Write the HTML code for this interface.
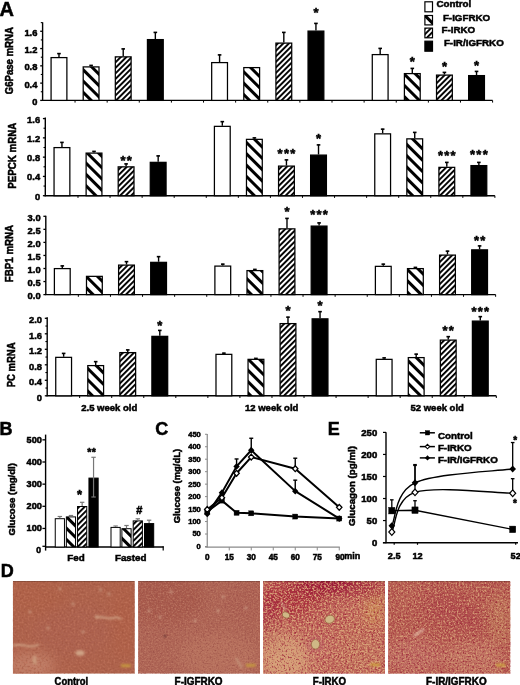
<!DOCTYPE html>
<html><head><meta charset="utf-8"><style>
html,body{margin:0;padding:0;background:#fff;width:520px;height:685px;overflow:hidden}
svg{display:block}
text{font-family:'Liberation Sans', Arial, sans-serif;stroke:#000;stroke-width:0.5px}
</style></head><body>
<svg width="520" height="685" viewBox="0 0 520 685">
<defs>
<pattern id="bk" patternUnits="userSpaceOnUse" width="8" height="8" patternTransform="rotate(-45)">
<rect width="8" height="8" fill="#fff"/><rect x="0" y="0" width="3" height="8" fill="#000"/></pattern>
<pattern id="fw" patternUnits="userSpaceOnUse" width="3.9" height="8" patternTransform="rotate(45)">
<rect width="3.9" height="8" fill="#fff"/><rect x="0" y="0" width="1.9" height="8" fill="#000"/></pattern>
<filter id="bl6" x="-50%" y="-50%" width="200%" height="200%"><feGaussianBlur stdDeviation="6"/></filter>
<filter id="bl3" x="-50%" y="-50%" width="200%" height="200%"><feGaussianBlur stdDeviation="3"/></filter>
<filter id="bl1" x="-50%" y="-50%" width="200%" height="200%"><feGaussianBlur stdDeviation="0.8"/></filter>
<filter id="sl0" x="0" y="0" width="1" height="1" color-interpolation-filters="sRGB"><feTurbulence type="fractalNoise" baseFrequency="0.5" numOctaves="2" seed="3"/><feColorMatrix type="matrix" values="0 0 0 0 0.82 0 0 0 0 0.53 0 0 0 0 0.41 1.8 0 0 0 -0.8"/></filter>
<filter id="sd0" x="0" y="0" width="1" height="1" color-interpolation-filters="sRGB"><feTurbulence type="fractalNoise" baseFrequency="0.5" numOctaves="2" seed="7"/><feColorMatrix type="matrix" values="0 0 0 0 0.67 0 0 0 0 0.37 0 0 0 0 0.27 1.8 0 0 0 -0.8"/></filter>
<filter id="sl1" x="0" y="0" width="1" height="1" color-interpolation-filters="sRGB"><feTurbulence type="fractalNoise" baseFrequency="0.6" numOctaves="2" seed="11"/><feColorMatrix type="matrix" values="0 0 0 0 0.82 0 0 0 0 0.57 0 0 0 0 0.46 2 0 0 0 -0.88"/></filter>
<filter id="sd1" x="0" y="0" width="1" height="1" color-interpolation-filters="sRGB"><feTurbulence type="fractalNoise" baseFrequency="0.6" numOctaves="2" seed="13"/><feColorMatrix type="matrix" values="0 0 0 0 0.65 0 0 0 0 0.35 0 0 0 0 0.31 2 0 0 0 -0.88"/></filter>
<filter id="sl2" x="0" y="0" width="1" height="1" color-interpolation-filters="sRGB"><feTurbulence type="fractalNoise" baseFrequency="0.53 0.59" numOctaves="3" seed="17"/><feColorMatrix type="matrix" values="0 0 0 0 0.88 0 0 0 0 0.68 0 0 0 0 0.5 3.4 0 0 0 -1.45"/></filter>
<filter id="sd2" x="0" y="0" width="1" height="1" color-interpolation-filters="sRGB"><feTurbulence type="fractalNoise" baseFrequency="0.57 0.51" numOctaves="3" seed="19"/><feColorMatrix type="matrix" values="0 0 0 0 0.65 0 0 0 0 0.18 0 0 0 0 0.25 3 0 0 0 -1.4"/></filter>
<filter id="sl3" x="0" y="0" width="1" height="1" color-interpolation-filters="sRGB"><feTurbulence type="fractalNoise" baseFrequency="0.59 0.53" numOctaves="3" seed="23"/><feColorMatrix type="matrix" values="0 0 0 0 0.87 0 0 0 0 0.65 0 0 0 0 0.49 3.2 0 0 0 -1.5"/></filter>
<filter id="sd3" x="0" y="0" width="1" height="1" color-interpolation-filters="sRGB"><feTurbulence type="fractalNoise" baseFrequency="0.51 0.57" numOctaves="3" seed="29"/><feColorMatrix type="matrix" values="0 0 0 0 0.65 0 0 0 0 0.2 0 0 0 0 0.25 3 0 0 0 -1.4"/></filter>
<filter id="dk0" x="0" y="0" width="1" height="1" color-interpolation-filters="sRGB"><feComponentTransfer><feFuncR type="linear" slope="0.93"/><feFuncG type="linear" slope="0.88"/><feFuncB type="linear" slope="0.9"/></feComponentTransfer></filter>
<filter id="dk1" x="0" y="0" width="1" height="1" color-interpolation-filters="sRGB"><feComponentTransfer><feFuncR type="linear" slope="0.93"/><feFuncG type="linear" slope="0.88"/><feFuncB type="linear" slope="0.9"/></feComponentTransfer></filter>
<filter id="dk2" x="0" y="0" width="1" height="1" color-interpolation-filters="sRGB"><feComponentTransfer><feFuncR type="linear" slope="0.97"/><feFuncG type="linear" slope="0.94"/><feFuncB type="linear" slope="0.95"/></feComponentTransfer></filter>
<filter id="dk3" x="0" y="0" width="1" height="1" color-interpolation-filters="sRGB"><feComponentTransfer><feFuncR type="linear" slope="0.96"/><feFuncG type="linear" slope="0.93"/><feFuncB type="linear" slope="0.94"/></feComponentTransfer></filter>
<clipPath id="cp0"><rect x="12.9" y="580.9" width="121.9" height="92.8"/></clipPath>
<clipPath id="cp1"><rect x="138.1" y="580.9" width="121.9" height="92.8"/></clipPath>
<clipPath id="cp2"><rect x="263.1" y="580.9" width="121.9" height="92.8"/></clipPath>
<clipPath id="cp3"><rect x="388.1" y="580.9" width="122.3" height="92.8"/></clipPath>
</defs>
<line x1="42.6" y1="22.3" x2="42.6" y2="100.9" stroke="#000" stroke-width="1.4"/>
<line x1="40.2" y1="100.4" x2="42.6" y2="100.4" stroke="#000" stroke-width="1.3"/>
<text x="37.4" y="105.05" font-size="9.3" text-anchor="end" fill="#000" font-weight="bold">0</text>
<line x1="40.2" y1="83.12" x2="42.6" y2="83.12" stroke="#000" stroke-width="1.3"/>
<text x="37.4" y="87.77" font-size="9.3" text-anchor="end" fill="#000" font-weight="bold" textLength="13" lengthAdjust="spacingAndGlyphs">0.4</text>
<line x1="40.2" y1="65.84" x2="42.6" y2="65.84" stroke="#000" stroke-width="1.3"/>
<text x="37.4" y="70.49" font-size="9.3" text-anchor="end" fill="#000" font-weight="bold" textLength="13" lengthAdjust="spacingAndGlyphs">0.8</text>
<line x1="40.2" y1="48.56" x2="42.6" y2="48.56" stroke="#000" stroke-width="1.3"/>
<text x="37.4" y="53.21" font-size="9.3" text-anchor="end" fill="#000" font-weight="bold" textLength="13" lengthAdjust="spacingAndGlyphs">1.2</text>
<line x1="40.2" y1="31.28" x2="42.6" y2="31.28" stroke="#000" stroke-width="1.3"/>
<text x="37.4" y="35.93" font-size="9.3" text-anchor="end" fill="#000" font-weight="bold" textLength="13" lengthAdjust="spacingAndGlyphs">1.6</text>
<line x1="40.8" y1="91.76" x2="42.6" y2="91.76" stroke="#000" stroke-width="1.1"/>
<line x1="40.8" y1="74.48" x2="42.6" y2="74.48" stroke="#000" stroke-width="1.1"/>
<line x1="40.8" y1="57.2" x2="42.6" y2="57.2" stroke="#000" stroke-width="1.1"/>
<line x1="40.8" y1="39.92" x2="42.6" y2="39.92" stroke="#000" stroke-width="1.1"/>
<line x1="40.8" y1="22.64" x2="42.6" y2="22.64" stroke="#000" stroke-width="1.1"/>
<line x1="41.9" y1="100.4" x2="492.6" y2="100.4" stroke="#000" stroke-width="1.4"/>
<line x1="75.04" y1="100.4" x2="75.04" y2="102.6" stroke="#000" stroke-width="1"/>
<line x1="107.16" y1="100.4" x2="107.16" y2="102.6" stroke="#000" stroke-width="1"/>
<line x1="139.28" y1="100.4" x2="139.28" y2="102.6" stroke="#000" stroke-width="1"/>
<line x1="171.4" y1="100.4" x2="171.4" y2="102.6" stroke="#000" stroke-width="1"/>
<line x1="203.52" y1="100.4" x2="203.52" y2="102.6" stroke="#000" stroke-width="1"/>
<line x1="235.64" y1="100.4" x2="235.64" y2="102.6" stroke="#000" stroke-width="1"/>
<line x1="267.76" y1="100.4" x2="267.76" y2="102.6" stroke="#000" stroke-width="1"/>
<line x1="299.88" y1="100.4" x2="299.88" y2="102.6" stroke="#000" stroke-width="1"/>
<line x1="332" y1="100.4" x2="332" y2="102.6" stroke="#000" stroke-width="1"/>
<line x1="364.12" y1="100.4" x2="364.12" y2="102.6" stroke="#000" stroke-width="1"/>
<line x1="396.24" y1="100.4" x2="396.24" y2="102.6" stroke="#000" stroke-width="1"/>
<line x1="428.36" y1="100.4" x2="428.36" y2="102.6" stroke="#000" stroke-width="1"/>
<line x1="460.48" y1="100.4" x2="460.48" y2="102.6" stroke="#000" stroke-width="1"/>
<line x1="492.6" y1="100.4" x2="492.6" y2="102.6" stroke="#000" stroke-width="1"/>
<line x1="58.98" y1="53.2" x2="58.98" y2="57" stroke="#000" stroke-width="1.4"/>
<line x1="57.18" y1="53.6" x2="60.78" y2="53.6" stroke="#000" stroke-width="1.6"/>
<rect x="51.08" y="57.6" width="15.8" height="42.8" fill="#fff" stroke="#000" stroke-width="1.25"/>
<line x1="91.1" y1="65" x2="91.1" y2="66.3" stroke="#000" stroke-width="1.4"/>
<line x1="89.3" y1="65.4" x2="92.9" y2="65.4" stroke="#000" stroke-width="1.6"/>
<rect x="83.2" y="66.9" width="15.8" height="33.5" fill="url(#bk)" stroke="#000" stroke-width="1.25"/>
<line x1="123.22" y1="48.5" x2="123.22" y2="56.25" stroke="#000" stroke-width="1.4"/>
<line x1="121.42" y1="48.9" x2="125.02" y2="48.9" stroke="#000" stroke-width="1.6"/>
<rect x="115.32" y="56.85" width="15.8" height="43.55" fill="url(#fw)" stroke="#000" stroke-width="1.25"/>
<line x1="155.34" y1="32" x2="155.34" y2="39" stroke="#000" stroke-width="1.4"/>
<line x1="153.54" y1="32.4" x2="157.14" y2="32.4" stroke="#000" stroke-width="1.6"/>
<rect x="147.44" y="39.6" width="15.8" height="60.8" fill="#000" stroke="#000" stroke-width="1.25"/>
<line x1="219.58" y1="54.5" x2="219.58" y2="62" stroke="#000" stroke-width="1.4"/>
<line x1="217.78" y1="54.9" x2="221.38" y2="54.9" stroke="#000" stroke-width="1.6"/>
<rect x="211.68" y="62.6" width="15.8" height="37.8" fill="#fff" stroke="#000" stroke-width="1.25"/>
<rect x="243.8" y="67.6" width="15.8" height="32.8" fill="url(#bk)" stroke="#000" stroke-width="1.25"/>
<line x1="283.82" y1="32" x2="283.82" y2="42.5" stroke="#000" stroke-width="1.4"/>
<line x1="282.02" y1="32.4" x2="285.62" y2="32.4" stroke="#000" stroke-width="1.6"/>
<rect x="275.92" y="43.1" width="15.8" height="57.3" fill="url(#fw)" stroke="#000" stroke-width="1.25"/>
<line x1="315.94" y1="23" x2="315.94" y2="30.5" stroke="#000" stroke-width="1.4"/>
<line x1="314.14" y1="23.4" x2="317.74" y2="23.4" stroke="#000" stroke-width="1.6"/>
<rect x="308.04" y="31.1" width="15.8" height="69.3" fill="#000" stroke="#000" stroke-width="1.25"/>
<text x="315.94" y="16.6" font-size="13" text-anchor="middle" fill="#000" font-weight="bold">*</text>
<line x1="380.18" y1="48" x2="380.18" y2="54" stroke="#000" stroke-width="1.4"/>
<line x1="378.38" y1="48.4" x2="381.98" y2="48.4" stroke="#000" stroke-width="1.6"/>
<rect x="372.28" y="54.6" width="15.8" height="45.8" fill="#fff" stroke="#000" stroke-width="1.25"/>
<line x1="412.3" y1="68" x2="412.3" y2="73" stroke="#000" stroke-width="1.4"/>
<line x1="410.5" y1="68.4" x2="414.1" y2="68.4" stroke="#000" stroke-width="1.6"/>
<rect x="404.4" y="73.6" width="15.8" height="26.8" fill="url(#bk)" stroke="#000" stroke-width="1.25"/>
<text x="412.3" y="66.4" font-size="13" text-anchor="middle" fill="#000" font-weight="bold">*</text>
<line x1="444.42" y1="72" x2="444.42" y2="74.5" stroke="#000" stroke-width="1.4"/>
<line x1="442.62" y1="72.4" x2="446.22" y2="72.4" stroke="#000" stroke-width="1.6"/>
<rect x="436.52" y="75.1" width="15.8" height="25.3" fill="url(#fw)" stroke="#000" stroke-width="1.25"/>
<text x="444.42" y="71.4" font-size="13" text-anchor="middle" fill="#000" font-weight="bold">*</text>
<line x1="476.54" y1="71" x2="476.54" y2="75" stroke="#000" stroke-width="1.4"/>
<line x1="474.74" y1="71.4" x2="478.34" y2="71.4" stroke="#000" stroke-width="1.6"/>
<rect x="468.64" y="75.6" width="15.8" height="24.8" fill="#000" stroke="#000" stroke-width="1.25"/>
<text x="476.54" y="70.4" font-size="13" text-anchor="middle" fill="#000" font-weight="bold">*</text>
<text transform="translate(12.9,60.7) rotate(-90)" x="0" y="0" font-size="10" text-anchor="middle" font-weight="bold" textLength="67.2" lengthAdjust="spacingAndGlyphs">G6Pase mRNA</text>
<line x1="45.3" y1="117.6" x2="45.3" y2="196.2" stroke="#000" stroke-width="1.4"/>
<line x1="42.9" y1="195.7" x2="45.3" y2="195.7" stroke="#000" stroke-width="1.3"/>
<text x="40.1" y="199.65" font-size="9.3" text-anchor="end" fill="#000" font-weight="bold">0</text>
<line x1="42.9" y1="176.42" x2="45.3" y2="176.42" stroke="#000" stroke-width="1.3"/>
<text x="40.1" y="180.37" font-size="9.3" text-anchor="end" fill="#000" font-weight="bold" textLength="13" lengthAdjust="spacingAndGlyphs">0.4</text>
<line x1="42.9" y1="157.14" x2="45.3" y2="157.14" stroke="#000" stroke-width="1.3"/>
<text x="40.1" y="161.09" font-size="9.3" text-anchor="end" fill="#000" font-weight="bold" textLength="13" lengthAdjust="spacingAndGlyphs">0.8</text>
<line x1="42.9" y1="137.86" x2="45.3" y2="137.86" stroke="#000" stroke-width="1.3"/>
<text x="40.1" y="141.81" font-size="9.3" text-anchor="end" fill="#000" font-weight="bold" textLength="13" lengthAdjust="spacingAndGlyphs">1.2</text>
<line x1="42.9" y1="118.58" x2="45.3" y2="118.58" stroke="#000" stroke-width="1.3"/>
<text x="40.1" y="122.53" font-size="9.3" text-anchor="end" fill="#000" font-weight="bold" textLength="13" lengthAdjust="spacingAndGlyphs">1.6</text>
<line x1="43.5" y1="186.06" x2="45.3" y2="186.06" stroke="#000" stroke-width="1.1"/>
<line x1="43.5" y1="166.78" x2="45.3" y2="166.78" stroke="#000" stroke-width="1.1"/>
<line x1="43.5" y1="147.5" x2="45.3" y2="147.5" stroke="#000" stroke-width="1.1"/>
<line x1="43.5" y1="128.22" x2="45.3" y2="128.22" stroke="#000" stroke-width="1.1"/>
<line x1="44.6" y1="195.7" x2="494.9" y2="195.7" stroke="#000" stroke-width="1.4"/>
<line x1="77.99" y1="195.7" x2="77.99" y2="197.9" stroke="#000" stroke-width="1"/>
<line x1="110.06" y1="195.7" x2="110.06" y2="197.9" stroke="#000" stroke-width="1"/>
<line x1="142.13" y1="195.7" x2="142.13" y2="197.9" stroke="#000" stroke-width="1"/>
<line x1="174.2" y1="195.7" x2="174.2" y2="197.9" stroke="#000" stroke-width="1"/>
<line x1="206.27" y1="195.7" x2="206.27" y2="197.9" stroke="#000" stroke-width="1"/>
<line x1="238.34" y1="195.7" x2="238.34" y2="197.9" stroke="#000" stroke-width="1"/>
<line x1="270.41" y1="195.7" x2="270.41" y2="197.9" stroke="#000" stroke-width="1"/>
<line x1="302.48" y1="195.7" x2="302.48" y2="197.9" stroke="#000" stroke-width="1"/>
<line x1="334.55" y1="195.7" x2="334.55" y2="197.9" stroke="#000" stroke-width="1"/>
<line x1="366.62" y1="195.7" x2="366.62" y2="197.9" stroke="#000" stroke-width="1"/>
<line x1="398.69" y1="195.7" x2="398.69" y2="197.9" stroke="#000" stroke-width="1"/>
<line x1="430.76" y1="195.7" x2="430.76" y2="197.9" stroke="#000" stroke-width="1"/>
<line x1="462.83" y1="195.7" x2="462.83" y2="197.9" stroke="#000" stroke-width="1"/>
<line x1="494.9" y1="195.7" x2="494.9" y2="197.9" stroke="#000" stroke-width="1"/>
<line x1="61.95" y1="142" x2="61.95" y2="147" stroke="#000" stroke-width="1.4"/>
<line x1="60.16" y1="142.4" x2="63.75" y2="142.4" stroke="#000" stroke-width="1.6"/>
<rect x="54.05" y="147.6" width="15.8" height="48.1" fill="#fff" stroke="#000" stroke-width="1.25"/>
<line x1="94.03" y1="151" x2="94.03" y2="152.5" stroke="#000" stroke-width="1.4"/>
<line x1="92.23" y1="151.4" x2="95.83" y2="151.4" stroke="#000" stroke-width="1.6"/>
<rect x="86.12" y="153.1" width="15.8" height="42.6" fill="url(#bk)" stroke="#000" stroke-width="1.25"/>
<line x1="126.09" y1="163.5" x2="126.09" y2="166.25" stroke="#000" stroke-width="1.4"/>
<line x1="124.3" y1="163.9" x2="127.89" y2="163.9" stroke="#000" stroke-width="1.6"/>
<rect x="118.19" y="166.85" width="15.8" height="28.85" fill="url(#fw)" stroke="#000" stroke-width="1.25"/>
<text x="122.94" y="164.9" font-size="13" text-anchor="middle" fill="#000" font-weight="bold">*</text>
<text x="129.25" y="164.9" font-size="13" text-anchor="middle" fill="#000" font-weight="bold">*</text>
<line x1="158.17" y1="155.5" x2="158.17" y2="161.75" stroke="#000" stroke-width="1.4"/>
<line x1="156.37" y1="155.9" x2="159.97" y2="155.9" stroke="#000" stroke-width="1.6"/>
<rect x="150.27" y="162.35" width="15.8" height="33.35" fill="#000" stroke="#000" stroke-width="1.25"/>
<line x1="222.31" y1="121.25" x2="222.31" y2="125.75" stroke="#000" stroke-width="1.4"/>
<line x1="220.5" y1="121.65" x2="224.11" y2="121.65" stroke="#000" stroke-width="1.6"/>
<rect x="214.41" y="126.35" width="15.8" height="69.35" fill="#fff" stroke="#000" stroke-width="1.25"/>
<line x1="254.38" y1="137.5" x2="254.38" y2="138.75" stroke="#000" stroke-width="1.4"/>
<line x1="252.57" y1="137.9" x2="256.18" y2="137.9" stroke="#000" stroke-width="1.6"/>
<rect x="246.47" y="139.35" width="15.8" height="56.35" fill="url(#bk)" stroke="#000" stroke-width="1.25"/>
<line x1="286.44" y1="159.5" x2="286.44" y2="165.5" stroke="#000" stroke-width="1.4"/>
<line x1="284.64" y1="159.9" x2="288.25" y2="159.9" stroke="#000" stroke-width="1.6"/>
<rect x="278.55" y="166.1" width="15.8" height="29.6" fill="url(#fw)" stroke="#000" stroke-width="1.25"/>
<text x="280.14" y="157.9" font-size="13" text-anchor="middle" fill="#000" font-weight="bold">*</text>
<text x="286.44" y="157.9" font-size="13" text-anchor="middle" fill="#000" font-weight="bold">*</text>
<text x="292.75" y="157.9" font-size="13" text-anchor="middle" fill="#000" font-weight="bold">*</text>
<line x1="318.52" y1="144.5" x2="318.52" y2="154.5" stroke="#000" stroke-width="1.4"/>
<line x1="316.72" y1="144.9" x2="320.32" y2="144.9" stroke="#000" stroke-width="1.6"/>
<rect x="310.62" y="155.1" width="15.8" height="40.6" fill="#000" stroke="#000" stroke-width="1.25"/>
<text x="318.52" y="142.9" font-size="13" text-anchor="middle" fill="#000" font-weight="bold">*</text>
<line x1="382.66" y1="128.75" x2="382.66" y2="133.25" stroke="#000" stroke-width="1.4"/>
<line x1="380.86" y1="129.15" x2="384.46" y2="129.15" stroke="#000" stroke-width="1.6"/>
<rect x="374.76" y="133.85" width="15.8" height="61.85" fill="#fff" stroke="#000" stroke-width="1.25"/>
<line x1="414.73" y1="132" x2="414.73" y2="138.25" stroke="#000" stroke-width="1.4"/>
<line x1="412.93" y1="132.4" x2="416.53" y2="132.4" stroke="#000" stroke-width="1.6"/>
<rect x="406.83" y="138.85" width="15.8" height="56.85" fill="url(#bk)" stroke="#000" stroke-width="1.25"/>
<line x1="446.8" y1="162" x2="446.8" y2="166.75" stroke="#000" stroke-width="1.4"/>
<line x1="445" y1="162.4" x2="448.6" y2="162.4" stroke="#000" stroke-width="1.6"/>
<rect x="438.9" y="167.35" width="15.8" height="28.35" fill="url(#fw)" stroke="#000" stroke-width="1.25"/>
<text x="440.5" y="160.4" font-size="13" text-anchor="middle" fill="#000" font-weight="bold">*</text>
<text x="446.8" y="160.4" font-size="13" text-anchor="middle" fill="#000" font-weight="bold">*</text>
<text x="453.1" y="160.4" font-size="13" text-anchor="middle" fill="#000" font-weight="bold">*</text>
<line x1="478.87" y1="162" x2="478.87" y2="165" stroke="#000" stroke-width="1.4"/>
<line x1="477.06" y1="162.4" x2="480.67" y2="162.4" stroke="#000" stroke-width="1.6"/>
<rect x="470.97" y="165.6" width="15.8" height="30.1" fill="#000" stroke="#000" stroke-width="1.25"/>
<text x="472.56" y="159.15" font-size="13" text-anchor="middle" fill="#000" font-weight="bold">*</text>
<text x="478.87" y="159.15" font-size="13" text-anchor="middle" fill="#000" font-weight="bold">*</text>
<text x="485.17" y="159.15" font-size="13" text-anchor="middle" fill="#000" font-weight="bold">*</text>
<text transform="translate(16.1,155.7) rotate(-90)" x="0" y="0" font-size="10" text-anchor="middle" font-weight="bold" textLength="65.9" lengthAdjust="spacingAndGlyphs">PEPCK mRNA</text>
<line x1="45.8" y1="215.8" x2="45.8" y2="295.1" stroke="#000" stroke-width="1.4"/>
<line x1="43.4" y1="294.6" x2="45.8" y2="294.6" stroke="#000" stroke-width="1.3"/>
<text x="40.6" y="298.95" font-size="9.3" text-anchor="end" fill="#000" font-weight="bold" textLength="13" lengthAdjust="spacingAndGlyphs">0.0</text>
<line x1="43.4" y1="281.55" x2="45.8" y2="281.55" stroke="#000" stroke-width="1.3"/>
<text x="40.6" y="285.9" font-size="9.3" text-anchor="end" fill="#000" font-weight="bold" textLength="13" lengthAdjust="spacingAndGlyphs">0.5</text>
<line x1="43.4" y1="268.5" x2="45.8" y2="268.5" stroke="#000" stroke-width="1.3"/>
<text x="40.6" y="272.85" font-size="9.3" text-anchor="end" fill="#000" font-weight="bold" textLength="13" lengthAdjust="spacingAndGlyphs">1.0</text>
<line x1="43.4" y1="255.45" x2="45.8" y2="255.45" stroke="#000" stroke-width="1.3"/>
<text x="40.6" y="259.8" font-size="9.3" text-anchor="end" fill="#000" font-weight="bold" textLength="13" lengthAdjust="spacingAndGlyphs">1.5</text>
<line x1="43.4" y1="242.4" x2="45.8" y2="242.4" stroke="#000" stroke-width="1.3"/>
<text x="40.6" y="246.75" font-size="9.3" text-anchor="end" fill="#000" font-weight="bold" textLength="13" lengthAdjust="spacingAndGlyphs">2.0</text>
<line x1="43.4" y1="229.35" x2="45.8" y2="229.35" stroke="#000" stroke-width="1.3"/>
<text x="40.6" y="233.7" font-size="9.3" text-anchor="end" fill="#000" font-weight="bold" textLength="13" lengthAdjust="spacingAndGlyphs">2.5</text>
<line x1="43.4" y1="216.3" x2="45.8" y2="216.3" stroke="#000" stroke-width="1.3"/>
<text x="40.6" y="220.65" font-size="9.3" text-anchor="end" fill="#000" font-weight="bold" textLength="13" lengthAdjust="spacingAndGlyphs">3.0</text>
<line x1="45.1" y1="294.6" x2="495.64" y2="294.6" stroke="#000" stroke-width="1.4"/>
<line x1="78.34" y1="294.6" x2="78.34" y2="296.8" stroke="#000" stroke-width="1"/>
<line x1="110.44" y1="294.6" x2="110.44" y2="296.8" stroke="#000" stroke-width="1"/>
<line x1="142.54" y1="294.6" x2="142.54" y2="296.8" stroke="#000" stroke-width="1"/>
<line x1="174.64" y1="294.6" x2="174.64" y2="296.8" stroke="#000" stroke-width="1"/>
<line x1="206.74" y1="294.6" x2="206.74" y2="296.8" stroke="#000" stroke-width="1"/>
<line x1="238.84" y1="294.6" x2="238.84" y2="296.8" stroke="#000" stroke-width="1"/>
<line x1="270.94" y1="294.6" x2="270.94" y2="296.8" stroke="#000" stroke-width="1"/>
<line x1="303.04" y1="294.6" x2="303.04" y2="296.8" stroke="#000" stroke-width="1"/>
<line x1="335.14" y1="294.6" x2="335.14" y2="296.8" stroke="#000" stroke-width="1"/>
<line x1="367.24" y1="294.6" x2="367.24" y2="296.8" stroke="#000" stroke-width="1"/>
<line x1="399.34" y1="294.6" x2="399.34" y2="296.8" stroke="#000" stroke-width="1"/>
<line x1="431.44" y1="294.6" x2="431.44" y2="296.8" stroke="#000" stroke-width="1"/>
<line x1="463.54" y1="294.6" x2="463.54" y2="296.8" stroke="#000" stroke-width="1"/>
<line x1="495.64" y1="294.6" x2="495.64" y2="296.8" stroke="#000" stroke-width="1"/>
<line x1="62.29" y1="265.5" x2="62.29" y2="268" stroke="#000" stroke-width="1.4"/>
<line x1="60.49" y1="265.9" x2="64.09" y2="265.9" stroke="#000" stroke-width="1.6"/>
<rect x="54.39" y="268.6" width="15.8" height="26" fill="#fff" stroke="#000" stroke-width="1.25"/>
<rect x="86.49" y="276.35" width="15.8" height="18.25" fill="url(#bk)" stroke="#000" stroke-width="1.25"/>
<line x1="126.49" y1="261.25" x2="126.49" y2="264.5" stroke="#000" stroke-width="1.4"/>
<line x1="124.69" y1="261.65" x2="128.29" y2="261.65" stroke="#000" stroke-width="1.6"/>
<rect x="118.59" y="265.1" width="15.8" height="29.5" fill="url(#fw)" stroke="#000" stroke-width="1.25"/>
<line x1="158.59" y1="256.25" x2="158.59" y2="261.75" stroke="#000" stroke-width="1.4"/>
<line x1="156.79" y1="256.65" x2="160.39" y2="256.65" stroke="#000" stroke-width="1.6"/>
<rect x="150.69" y="262.35" width="15.8" height="32.25" fill="#000" stroke="#000" stroke-width="1.25"/>
<line x1="222.79" y1="263.75" x2="222.79" y2="265.5" stroke="#000" stroke-width="1.4"/>
<line x1="220.99" y1="264.15" x2="224.59" y2="264.15" stroke="#000" stroke-width="1.6"/>
<rect x="214.89" y="266.1" width="15.8" height="28.5" fill="#fff" stroke="#000" stroke-width="1.25"/>
<line x1="254.89" y1="269" x2="254.89" y2="270" stroke="#000" stroke-width="1.4"/>
<line x1="253.09" y1="269.4" x2="256.69" y2="269.4" stroke="#000" stroke-width="1.6"/>
<rect x="246.99" y="270.6" width="15.8" height="24" fill="url(#bk)" stroke="#000" stroke-width="1.25"/>
<line x1="286.99" y1="218" x2="286.99" y2="228.25" stroke="#000" stroke-width="1.4"/>
<line x1="285.19" y1="218.4" x2="288.79" y2="218.4" stroke="#000" stroke-width="1.6"/>
<rect x="279.09" y="228.85" width="15.8" height="65.75" fill="url(#fw)" stroke="#000" stroke-width="1.25"/>
<text x="286.99" y="215.9" font-size="13" text-anchor="middle" fill="#000" font-weight="bold">*</text>
<line x1="319.09" y1="222.5" x2="319.09" y2="225.5" stroke="#000" stroke-width="1.4"/>
<line x1="317.29" y1="222.9" x2="320.89" y2="222.9" stroke="#000" stroke-width="1.6"/>
<rect x="311.19" y="226.1" width="15.8" height="68.5" fill="#000" stroke="#000" stroke-width="1.25"/>
<text x="312.79" y="219.15" font-size="13" text-anchor="middle" fill="#000" font-weight="bold">*</text>
<text x="319.09" y="219.15" font-size="13" text-anchor="middle" fill="#000" font-weight="bold">*</text>
<text x="325.39" y="219.15" font-size="13" text-anchor="middle" fill="#000" font-weight="bold">*</text>
<line x1="383.29" y1="263.75" x2="383.29" y2="265.75" stroke="#000" stroke-width="1.4"/>
<line x1="381.49" y1="264.15" x2="385.09" y2="264.15" stroke="#000" stroke-width="1.6"/>
<rect x="375.39" y="266.35" width="15.8" height="28.25" fill="#fff" stroke="#000" stroke-width="1.25"/>
<line x1="415.39" y1="267" x2="415.39" y2="268" stroke="#000" stroke-width="1.4"/>
<line x1="413.59" y1="267.4" x2="417.19" y2="267.4" stroke="#000" stroke-width="1.6"/>
<rect x="407.49" y="268.6" width="15.8" height="26" fill="url(#bk)" stroke="#000" stroke-width="1.25"/>
<line x1="447.49" y1="250.75" x2="447.49" y2="254.5" stroke="#000" stroke-width="1.4"/>
<line x1="445.69" y1="251.15" x2="449.29" y2="251.15" stroke="#000" stroke-width="1.6"/>
<rect x="439.59" y="255.1" width="15.8" height="39.5" fill="url(#fw)" stroke="#000" stroke-width="1.25"/>
<line x1="479.59" y1="245.5" x2="479.59" y2="249.25" stroke="#000" stroke-width="1.4"/>
<line x1="477.79" y1="245.9" x2="481.39" y2="245.9" stroke="#000" stroke-width="1.6"/>
<rect x="471.69" y="249.85" width="15.8" height="44.75" fill="#000" stroke="#000" stroke-width="1.25"/>
<text x="476.44" y="244.9" font-size="13" text-anchor="middle" fill="#000" font-weight="bold">*</text>
<text x="482.74" y="244.9" font-size="13" text-anchor="middle" fill="#000" font-weight="bold">*</text>
<text transform="translate(12.9,253.5) rotate(-90)" x="0" y="0" font-size="10" text-anchor="middle" font-weight="bold" textLength="57.3" lengthAdjust="spacingAndGlyphs">FBP1 mRNA</text>
<line x1="47.2" y1="317.2" x2="47.2" y2="396.3" stroke="#000" stroke-width="1.4"/>
<line x1="44.8" y1="395.8" x2="47.2" y2="395.8" stroke="#000" stroke-width="1.3"/>
<text x="42" y="400.55" font-size="9.3" text-anchor="end" fill="#000" font-weight="bold">0</text>
<line x1="44.8" y1="380.3" x2="47.2" y2="380.3" stroke="#000" stroke-width="1.3"/>
<text x="42" y="385.05" font-size="9.3" text-anchor="end" fill="#000" font-weight="bold" textLength="13" lengthAdjust="spacingAndGlyphs">0.4</text>
<line x1="44.8" y1="364.8" x2="47.2" y2="364.8" stroke="#000" stroke-width="1.3"/>
<text x="42" y="369.55" font-size="9.3" text-anchor="end" fill="#000" font-weight="bold" textLength="13" lengthAdjust="spacingAndGlyphs">0.8</text>
<line x1="44.8" y1="349.3" x2="47.2" y2="349.3" stroke="#000" stroke-width="1.3"/>
<text x="42" y="354.05" font-size="9.3" text-anchor="end" fill="#000" font-weight="bold" textLength="13" lengthAdjust="spacingAndGlyphs">1.2</text>
<line x1="44.8" y1="333.8" x2="47.2" y2="333.8" stroke="#000" stroke-width="1.3"/>
<text x="42" y="338.55" font-size="9.3" text-anchor="end" fill="#000" font-weight="bold" textLength="13" lengthAdjust="spacingAndGlyphs">1.6</text>
<line x1="44.8" y1="318.3" x2="47.2" y2="318.3" stroke="#000" stroke-width="1.3"/>
<text x="42" y="323.05" font-size="9.3" text-anchor="end" fill="#000" font-weight="bold" textLength="13" lengthAdjust="spacingAndGlyphs">2.0</text>
<line x1="45.4" y1="388.05" x2="47.2" y2="388.05" stroke="#000" stroke-width="1.1"/>
<line x1="45.4" y1="372.55" x2="47.2" y2="372.55" stroke="#000" stroke-width="1.1"/>
<line x1="45.4" y1="357.05" x2="47.2" y2="357.05" stroke="#000" stroke-width="1.1"/>
<line x1="45.4" y1="341.55" x2="47.2" y2="341.55" stroke="#000" stroke-width="1.1"/>
<line x1="45.4" y1="326.05" x2="47.2" y2="326.05" stroke="#000" stroke-width="1.1"/>
<line x1="46.5" y1="395.8" x2="496.32" y2="395.8" stroke="#000" stroke-width="1.4"/>
<line x1="79.67" y1="395.8" x2="79.67" y2="398" stroke="#000" stroke-width="1"/>
<line x1="111.72" y1="395.8" x2="111.72" y2="398" stroke="#000" stroke-width="1"/>
<line x1="143.77" y1="395.8" x2="143.77" y2="398" stroke="#000" stroke-width="1"/>
<line x1="175.82" y1="395.8" x2="175.82" y2="398" stroke="#000" stroke-width="1"/>
<line x1="207.87" y1="395.8" x2="207.87" y2="398" stroke="#000" stroke-width="1"/>
<line x1="239.92" y1="395.8" x2="239.92" y2="398" stroke="#000" stroke-width="1"/>
<line x1="271.97" y1="395.8" x2="271.97" y2="398" stroke="#000" stroke-width="1"/>
<line x1="304.02" y1="395.8" x2="304.02" y2="398" stroke="#000" stroke-width="1"/>
<line x1="336.07" y1="395.8" x2="336.07" y2="398" stroke="#000" stroke-width="1"/>
<line x1="368.12" y1="395.8" x2="368.12" y2="398" stroke="#000" stroke-width="1"/>
<line x1="400.17" y1="395.8" x2="400.17" y2="398" stroke="#000" stroke-width="1"/>
<line x1="432.22" y1="395.8" x2="432.22" y2="398" stroke="#000" stroke-width="1"/>
<line x1="464.27" y1="395.8" x2="464.27" y2="398" stroke="#000" stroke-width="1"/>
<line x1="496.32" y1="395.8" x2="496.32" y2="398" stroke="#000" stroke-width="1"/>
<line x1="63.64" y1="353" x2="63.64" y2="356.75" stroke="#000" stroke-width="1.4"/>
<line x1="61.84" y1="353.4" x2="65.44" y2="353.4" stroke="#000" stroke-width="1.6"/>
<rect x="55.74" y="357.35" width="15.8" height="38.45" fill="#fff" stroke="#000" stroke-width="1.25"/>
<line x1="95.69" y1="361.25" x2="95.69" y2="365" stroke="#000" stroke-width="1.4"/>
<line x1="93.89" y1="361.65" x2="97.49" y2="361.65" stroke="#000" stroke-width="1.6"/>
<rect x="87.79" y="365.6" width="15.8" height="30.2" fill="url(#bk)" stroke="#000" stroke-width="1.25"/>
<line x1="127.75" y1="349.5" x2="127.75" y2="352" stroke="#000" stroke-width="1.4"/>
<line x1="125.95" y1="349.9" x2="129.55" y2="349.9" stroke="#000" stroke-width="1.6"/>
<rect x="119.84" y="352.6" width="15.8" height="43.2" fill="url(#fw)" stroke="#000" stroke-width="1.25"/>
<line x1="159.79" y1="330" x2="159.79" y2="335.75" stroke="#000" stroke-width="1.4"/>
<line x1="157.99" y1="330.4" x2="161.59" y2="330.4" stroke="#000" stroke-width="1.6"/>
<rect x="151.89" y="336.35" width="15.8" height="59.45" fill="#000" stroke="#000" stroke-width="1.25"/>
<text x="159.79" y="329.65" font-size="13" text-anchor="middle" fill="#000" font-weight="bold">*</text>
<line x1="223.89" y1="352.75" x2="223.89" y2="353.75" stroke="#000" stroke-width="1.4"/>
<line x1="222.09" y1="353.15" x2="225.69" y2="353.15" stroke="#000" stroke-width="1.6"/>
<rect x="215.99" y="354.35" width="15.8" height="41.45" fill="#fff" stroke="#000" stroke-width="1.25"/>
<line x1="255.94" y1="358" x2="255.94" y2="358.75" stroke="#000" stroke-width="1.4"/>
<line x1="254.14" y1="358.4" x2="257.75" y2="358.4" stroke="#000" stroke-width="1.6"/>
<rect x="248.04" y="359.35" width="15.8" height="36.45" fill="url(#bk)" stroke="#000" stroke-width="1.25"/>
<line x1="287.99" y1="316.75" x2="287.99" y2="323" stroke="#000" stroke-width="1.4"/>
<line x1="286.19" y1="317.15" x2="289.79" y2="317.15" stroke="#000" stroke-width="1.6"/>
<rect x="280.09" y="323.6" width="15.8" height="72.2" fill="url(#fw)" stroke="#000" stroke-width="1.25"/>
<text x="287.99" y="315.4" font-size="13" text-anchor="middle" fill="#000" font-weight="bold">*</text>
<line x1="320.04" y1="311.25" x2="320.04" y2="318.25" stroke="#000" stroke-width="1.4"/>
<line x1="318.24" y1="311.65" x2="321.84" y2="311.65" stroke="#000" stroke-width="1.6"/>
<rect x="312.14" y="318.85" width="15.8" height="76.95" fill="#000" stroke="#000" stroke-width="1.25"/>
<text x="320.04" y="310.4" font-size="13" text-anchor="middle" fill="#000" font-weight="bold">*</text>
<line x1="384.14" y1="357.5" x2="384.14" y2="358.75" stroke="#000" stroke-width="1.4"/>
<line x1="382.34" y1="357.9" x2="385.94" y2="357.9" stroke="#000" stroke-width="1.6"/>
<rect x="376.25" y="359.35" width="15.8" height="36.45" fill="#fff" stroke="#000" stroke-width="1.25"/>
<line x1="416.19" y1="353.75" x2="416.19" y2="357" stroke="#000" stroke-width="1.4"/>
<line x1="414.39" y1="354.15" x2="418" y2="354.15" stroke="#000" stroke-width="1.6"/>
<rect x="408.3" y="357.6" width="15.8" height="38.2" fill="url(#bk)" stroke="#000" stroke-width="1.25"/>
<line x1="448.24" y1="336.25" x2="448.24" y2="339.5" stroke="#000" stroke-width="1.4"/>
<line x1="446.44" y1="336.65" x2="450.04" y2="336.65" stroke="#000" stroke-width="1.6"/>
<rect x="440.34" y="340.1" width="15.8" height="55.7" fill="url(#fw)" stroke="#000" stroke-width="1.25"/>
<text x="445.09" y="334.9" font-size="13" text-anchor="middle" fill="#000" font-weight="bold">*</text>
<text x="451.39" y="334.9" font-size="13" text-anchor="middle" fill="#000" font-weight="bold">*</text>
<line x1="480.29" y1="316.25" x2="480.29" y2="320.5" stroke="#000" stroke-width="1.4"/>
<line x1="478.49" y1="316.65" x2="482.09" y2="316.65" stroke="#000" stroke-width="1.6"/>
<rect x="472.39" y="321.1" width="15.8" height="74.7" fill="#000" stroke="#000" stroke-width="1.25"/>
<text x="473.99" y="315.9" font-size="13" text-anchor="middle" fill="#000" font-weight="bold">*</text>
<text x="480.29" y="315.9" font-size="13" text-anchor="middle" fill="#000" font-weight="bold">*</text>
<text x="486.59" y="315.9" font-size="13" text-anchor="middle" fill="#000" font-weight="bold">*</text>
<text transform="translate(14.8,364.9) rotate(-90)" x="0" y="0" font-size="10" text-anchor="middle" font-weight="bold" textLength="44.8" lengthAdjust="spacingAndGlyphs">PC mRNA</text>
<text x="-0.6" y="15.9" font-size="20" text-anchor="start" fill="#000" font-weight="bold">A</text>
<rect x="424.9" y="1.8" width="7.6" height="10" fill="#fff" stroke="#000" stroke-width="1.2"/>
<rect x="424.9" y="15.5" width="7.6" height="9.4" fill="url(#bk)" stroke="#000" stroke-width="1.2"/>
<rect x="424.9" y="28.1" width="7.6" height="9.7" fill="url(#fw)" stroke="#000" stroke-width="1.2"/>
<rect x="424.9" y="41.2" width="7.6" height="10" fill="#000" stroke="#000" stroke-width="1.2"/>
<text x="436.4" y="6.6" font-size="9.8" text-anchor="start" fill="#000" font-weight="bold">Control</text>
<text x="442.9" y="21.2" font-size="9.8" text-anchor="start" fill="#000" font-weight="bold">F-IGFRKO</text>
<text x="441.5" y="33.3" font-size="9.8" text-anchor="start" fill="#000" font-weight="bold">F-IRKO</text>
<text x="443.9" y="45.5" font-size="9.8" text-anchor="start" fill="#000" font-weight="bold">F-IR/IGFRKO</text>
<text x="81.25" y="410.7" font-size="9.5" text-anchor="start" fill="#000" font-weight="bold">2.5 week old</text>
<text x="245" y="410.7" font-size="9.5" text-anchor="start" fill="#000" font-weight="bold">12 week old</text>
<text x="410.5" y="410.7" font-size="9.5" text-anchor="start" fill="#000" font-weight="bold">52 week old</text>
<text x="-0.6" y="434.6" font-size="18" text-anchor="start" fill="#000" font-weight="bold">B</text>
<line x1="45.6" y1="434.6" x2="45.6" y2="550.6" stroke="#000" stroke-width="1.4"/>
<line x1="42.4" y1="528.45" x2="45.6" y2="528.45" stroke="#000" stroke-width="1.3"/>
<text x="41.8" y="531.45" font-size="8.4" text-anchor="end" fill="#000" font-weight="bold" textLength="15.2" lengthAdjust="spacingAndGlyphs">100</text>
<line x1="42.4" y1="506.3" x2="45.6" y2="506.3" stroke="#000" stroke-width="1.3"/>
<text x="41.8" y="509.3" font-size="8.4" text-anchor="end" fill="#000" font-weight="bold" textLength="15.2" lengthAdjust="spacingAndGlyphs">200</text>
<line x1="42.4" y1="484.15" x2="45.6" y2="484.15" stroke="#000" stroke-width="1.3"/>
<text x="41.8" y="487.15" font-size="8.4" text-anchor="end" fill="#000" font-weight="bold" textLength="15.2" lengthAdjust="spacingAndGlyphs">300</text>
<line x1="42.4" y1="462" x2="45.6" y2="462" stroke="#000" stroke-width="1.3"/>
<text x="41.8" y="465" font-size="8.4" text-anchor="end" fill="#000" font-weight="bold" textLength="15.2" lengthAdjust="spacingAndGlyphs">400</text>
<line x1="42.4" y1="439.85" x2="45.6" y2="439.85" stroke="#000" stroke-width="1.3"/>
<text x="41.8" y="442.85" font-size="8.4" text-anchor="end" fill="#000" font-weight="bold" textLength="15.2" lengthAdjust="spacingAndGlyphs">500</text>
<line x1="42.4" y1="546.3" x2="45.6" y2="546.3" stroke="#000" stroke-width="1.3"/>
<text x="41" y="553.3" font-size="8.4" text-anchor="end" fill="#000" font-weight="bold" textLength="4.8" lengthAdjust="spacingAndGlyphs">0</text>
<line x1="45" y1="547" x2="163.6" y2="547" stroke="#000" stroke-width="1.6"/>
<line x1="163.2" y1="546.2" x2="163.2" y2="550.6" stroke="#000" stroke-width="1.2"/>
<rect x="55.25" y="518.7" width="9.2" height="28.3" fill="#fff" stroke="#000" stroke-width="1"/>
<line x1="59.85" y1="516.5" x2="59.85" y2="518.2" stroke="#777" stroke-width="1.2"/>
<line x1="57.65" y1="516.5" x2="62.05" y2="516.5" stroke="#777" stroke-width="1.2"/>
<rect x="66.35" y="516.9" width="9.2" height="30.1" fill="url(#bk)" stroke="#000" stroke-width="1"/>
<line x1="70.95" y1="515.5" x2="70.95" y2="516.4" stroke="#777" stroke-width="1.2"/>
<line x1="68.75" y1="515.5" x2="73.15" y2="515.5" stroke="#777" stroke-width="1.2"/>
<rect x="77.55" y="506.5" width="9.2" height="40.5" fill="url(#fw)" stroke="#000" stroke-width="1"/>
<line x1="82.15" y1="502.3" x2="82.15" y2="506" stroke="#777" stroke-width="1.2"/>
<line x1="79.95" y1="502.3" x2="84.35" y2="502.3" stroke="#777" stroke-width="1.2"/>
<rect x="88.95" y="478.1" width="9.2" height="68.9" fill="#000" stroke="#000" stroke-width="1"/>
<line x1="93.55" y1="457.3" x2="93.55" y2="477.6" stroke="#777" stroke-width="1.2"/>
<line x1="91.35" y1="457.3" x2="95.75" y2="457.3" stroke="#777" stroke-width="1.2"/>
<line x1="93.55" y1="477.6" x2="93.55" y2="497" stroke="#777" stroke-width="1.2"/>
<line x1="91.35" y1="497" x2="95.75" y2="497" stroke="#777" stroke-width="1.2"/>
<rect x="111" y="527.4" width="9.2" height="19.6" fill="#fff" stroke="#000" stroke-width="1"/>
<line x1="115.6" y1="526" x2="115.6" y2="526.9" stroke="#777" stroke-width="1.2"/>
<line x1="113.4" y1="526" x2="117.8" y2="526" stroke="#777" stroke-width="1.2"/>
<rect x="121.9" y="528.7" width="9.2" height="18.3" fill="url(#bk)" stroke="#000" stroke-width="1"/>
<line x1="126.5" y1="525.5" x2="126.5" y2="528.2" stroke="#777" stroke-width="1.2"/>
<line x1="124.3" y1="525.5" x2="128.7" y2="525.5" stroke="#777" stroke-width="1.2"/>
<rect x="133.2" y="520.9" width="9.2" height="26.1" fill="url(#fw)" stroke="#000" stroke-width="1"/>
<line x1="137.8" y1="518.8" x2="137.8" y2="520.4" stroke="#777" stroke-width="1.2"/>
<line x1="135.6" y1="518.8" x2="140" y2="518.8" stroke="#777" stroke-width="1.2"/>
<rect x="144.5" y="523.6" width="9.2" height="23.4" fill="#000" stroke="#000" stroke-width="1"/>
<line x1="149.1" y1="520.2" x2="149.1" y2="523.1" stroke="#777" stroke-width="1.2"/>
<line x1="146.9" y1="520.2" x2="151.3" y2="520.2" stroke="#777" stroke-width="1.2"/>
<text x="79.5" y="499.4" font-size="13" text-anchor="middle" fill="#000" font-weight="bold">*</text>
<text x="89.3" y="455.9" font-size="10.5" text-anchor="middle" fill="#000" font-weight="bold">*</text>
<text x="93.9" y="455.9" font-size="10.5" text-anchor="middle" fill="#000" font-weight="bold">*</text>
<text x="139.2" y="513.9" font-size="11" text-anchor="middle" fill="#000" font-weight="bold">#</text>
<text x="76" y="561" font-size="9.8" text-anchor="middle" fill="#000" font-weight="bold">Fed</text>
<text x="130.7" y="561" font-size="9.8" text-anchor="middle" fill="#000" font-weight="bold">Fasted</text>
<text transform="translate(14.8,499.3) rotate(-90)" x="0" y="0" font-size="9.8" text-anchor="middle" font-weight="bold" textLength="72.5" lengthAdjust="spacingAndGlyphs">Glucose (mg/dl)</text>
<text x="155.3" y="434.9" font-size="18" text-anchor="start" fill="#000" font-weight="bold">C</text>
<line x1="207.25" y1="433.9" x2="207.25" y2="547.6" stroke="#8a8a8a" stroke-width="1.2"/>
<line x1="205.2" y1="547.1" x2="339.8" y2="547.1" stroke="#8a8a8a" stroke-width="1.2"/>
<line x1="205" y1="546.5" x2="207.25" y2="546.5" stroke="#8a8a8a" stroke-width="1"/>
<text x="200.8" y="548.95" font-size="7.6" text-anchor="end" fill="#000" font-weight="bold" textLength="4.2" lengthAdjust="spacingAndGlyphs">0</text>
<line x1="205" y1="534.03" x2="207.25" y2="534.03" stroke="#8a8a8a" stroke-width="1"/>
<text x="200.8" y="536.48" font-size="7.6" text-anchor="end" fill="#000" font-weight="bold" textLength="8.4" lengthAdjust="spacingAndGlyphs">50</text>
<line x1="205" y1="521.56" x2="207.25" y2="521.56" stroke="#8a8a8a" stroke-width="1"/>
<text x="200.8" y="524.01" font-size="7.6" text-anchor="end" fill="#000" font-weight="bold" textLength="12.6" lengthAdjust="spacingAndGlyphs">100</text>
<line x1="205" y1="509.09" x2="207.25" y2="509.09" stroke="#8a8a8a" stroke-width="1"/>
<text x="200.8" y="511.54" font-size="7.6" text-anchor="end" fill="#000" font-weight="bold" textLength="12.6" lengthAdjust="spacingAndGlyphs">150</text>
<line x1="205" y1="496.62" x2="207.25" y2="496.62" stroke="#8a8a8a" stroke-width="1"/>
<text x="200.8" y="499.07" font-size="7.6" text-anchor="end" fill="#000" font-weight="bold" textLength="12.6" lengthAdjust="spacingAndGlyphs">200</text>
<line x1="205" y1="484.15" x2="207.25" y2="484.15" stroke="#8a8a8a" stroke-width="1"/>
<text x="200.8" y="486.6" font-size="7.6" text-anchor="end" fill="#000" font-weight="bold" textLength="12.6" lengthAdjust="spacingAndGlyphs">250</text>
<line x1="205" y1="471.68" x2="207.25" y2="471.68" stroke="#8a8a8a" stroke-width="1"/>
<text x="200.8" y="474.13" font-size="7.6" text-anchor="end" fill="#000" font-weight="bold" textLength="12.6" lengthAdjust="spacingAndGlyphs">300</text>
<line x1="205" y1="459.21" x2="207.25" y2="459.21" stroke="#8a8a8a" stroke-width="1"/>
<text x="200.8" y="461.66" font-size="7.6" text-anchor="end" fill="#000" font-weight="bold" textLength="12.6" lengthAdjust="spacingAndGlyphs">350</text>
<line x1="205" y1="446.74" x2="207.25" y2="446.74" stroke="#8a8a8a" stroke-width="1"/>
<text x="200.8" y="449.19" font-size="7.6" text-anchor="end" fill="#000" font-weight="bold" textLength="12.6" lengthAdjust="spacingAndGlyphs">400</text>
<line x1="205" y1="434.27" x2="207.25" y2="434.27" stroke="#8a8a8a" stroke-width="1"/>
<text x="200.8" y="436.72" font-size="7.6" text-anchor="end" fill="#000" font-weight="bold" textLength="12.6" lengthAdjust="spacingAndGlyphs">450</text>
<line x1="229.25" y1="547.1" x2="229.25" y2="550.4" stroke="#8a8a8a" stroke-width="1"/>
<line x1="251.25" y1="547.1" x2="251.25" y2="550.4" stroke="#8a8a8a" stroke-width="1"/>
<line x1="273.25" y1="547.1" x2="273.25" y2="550.4" stroke="#8a8a8a" stroke-width="1"/>
<line x1="295.25" y1="547.1" x2="295.25" y2="550.4" stroke="#8a8a8a" stroke-width="1"/>
<line x1="317.25" y1="547.1" x2="317.25" y2="550.4" stroke="#8a8a8a" stroke-width="1"/>
<line x1="339.25" y1="547.1" x2="339.25" y2="550.4" stroke="#8a8a8a" stroke-width="1"/>
<text x="207.25" y="559.9" font-size="8.2" text-anchor="middle" fill="#000" font-weight="bold">0</text>
<text x="229.25" y="559.9" font-size="8.2" text-anchor="middle" fill="#000" font-weight="bold">15</text>
<text x="251.25" y="559.9" font-size="8.2" text-anchor="middle" fill="#000" font-weight="bold">30</text>
<text x="273.25" y="559.9" font-size="8.2" text-anchor="middle" fill="#000" font-weight="bold">45</text>
<text x="295.25" y="559.9" font-size="8.2" text-anchor="middle" fill="#000" font-weight="bold">60</text>
<text x="317.25" y="559.9" font-size="8.2" text-anchor="middle" fill="#000" font-weight="bold">75</text>
<text x="340" y="560.4" font-size="8.2" text-anchor="middle" fill="#000" font-weight="bold">90</text>
<text x="344.2" y="558.7" font-size="9" text-anchor="start" fill="#000" font-weight="bold">min</text>
<text transform="translate(180.2,486.1) rotate(-90)" x="0" y="0" font-size="9.6" text-anchor="middle" font-weight="bold" textLength="74.5" lengthAdjust="spacingAndGlyphs">Glucose (mg/dL)</text>
<line x1="236.58" y1="458.96" x2="236.58" y2="466.44" stroke="#000" stroke-width="1.4"/>
<line x1="234.58" y1="458.96" x2="238.58" y2="458.96" stroke="#000" stroke-width="1.4"/>
<line x1="251.25" y1="438.26" x2="251.25" y2="450.23" stroke="#000" stroke-width="1.4"/>
<line x1="249.25" y1="438.26" x2="253.25" y2="438.26" stroke="#000" stroke-width="1.4"/>
<line x1="295.25" y1="480.16" x2="295.25" y2="491.13" stroke="#000" stroke-width="1.4"/>
<line x1="293.25" y1="480.16" x2="297.25" y2="480.16" stroke="#000" stroke-width="1.4"/>
<line x1="295.25" y1="458.21" x2="295.25" y2="468.69" stroke="#000" stroke-width="1.4"/>
<line x1="293.25" y1="458.21" x2="297.25" y2="458.21" stroke="#000" stroke-width="1.4"/>
<polyline points="207.25,511.58 221.92,500.61 236.58,512.83 251.25,513.33 295.25,516.57 339.25,518.57" fill="none" stroke="#000" stroke-width="2" stroke-linejoin="round"/>
<polyline points="207.25,509.44 221.92,497.72 236.58,473.28 251.25,457.07 295.25,468.69 339.25,507.34" fill="none" stroke="#000" stroke-width="2" stroke-linejoin="round"/>
<polyline points="207.25,513.95 221.92,492.63 236.58,466.44 251.25,450.23 295.25,491.13 339.25,518.57" fill="none" stroke="#000" stroke-width="2" stroke-linejoin="round"/>
<rect x="204.75" y="509.08" width="5" height="5" fill="#000" stroke="#000" stroke-width="0.4"/>
<rect x="219.42" y="498.11" width="5" height="5" fill="#000" stroke="#000" stroke-width="0.4"/>
<rect x="234.08" y="510.33" width="5" height="5" fill="#000" stroke="#000" stroke-width="0.4"/>
<rect x="248.75" y="510.83" width="5" height="5" fill="#000" stroke="#000" stroke-width="0.4"/>
<rect x="292.75" y="514.07" width="5" height="5" fill="#000" stroke="#000" stroke-width="0.4"/>
<rect x="336.75" y="516.07" width="5" height="5" fill="#000" stroke="#000" stroke-width="0.4"/>
<polygon points="207.25,510.55 210.45,513.95 207.25,517.35 204.05,513.95" fill="#000"/>
<polygon points="221.92,489.23 225.12,492.63 221.92,496.03 218.72,492.63" fill="#000"/>
<polygon points="236.58,463.04 239.78,466.44 236.58,469.84 233.38,466.44" fill="#000"/>
<polygon points="251.25,446.83 254.45,450.23 251.25,453.63 248.05,450.23" fill="#000"/>
<polygon points="295.25,487.73 298.45,491.13 295.25,494.53 292.05,491.13" fill="#000"/>
<polygon points="339.25,515.17 342.45,518.57 339.25,521.97 336.05,518.57" fill="#000"/>
<polygon points="207.25,506.54 209.95,509.44 207.25,512.34 204.55,509.44" fill="#fff" stroke="#000" stroke-width="1.3"/>
<polygon points="221.92,494.82 224.62,497.72 221.92,500.62 219.22,497.72" fill="#fff" stroke="#000" stroke-width="1.3"/>
<polygon points="236.58,470.38 239.28,473.28 236.58,476.18 233.88,473.28" fill="#fff" stroke="#000" stroke-width="1.3"/>
<polygon points="251.25,454.17 253.95,457.07 251.25,459.97 248.55,457.07" fill="#fff" stroke="#000" stroke-width="1.3"/>
<polygon points="295.25,465.79 297.95,468.69 295.25,471.59 292.55,468.69" fill="#fff" stroke="#000" stroke-width="1.3"/>
<polygon points="339.25,504.44 341.95,507.34 339.25,510.24 336.55,507.34" fill="#fff" stroke="#000" stroke-width="1.3"/>
<text x="327.8" y="435.3" font-size="18" text-anchor="start" fill="#000" font-weight="bold">E</text>
<line x1="386" y1="432.3" x2="386" y2="543.3" stroke="#000" stroke-width="1.4"/>
<line x1="382.9" y1="542.7" x2="518" y2="542.7" stroke="#000" stroke-width="1.4"/>
<line x1="383" y1="542.6" x2="386" y2="542.6" stroke="#000" stroke-width="1.2"/>
<text x="377.2" y="545.75" font-size="8.8" text-anchor="end" fill="#000" font-weight="bold" textLength="5.3" lengthAdjust="spacingAndGlyphs">0</text>
<line x1="383" y1="520.56" x2="386" y2="520.56" stroke="#000" stroke-width="1.2"/>
<text x="377.2" y="523.71" font-size="8.8" text-anchor="end" fill="#000" font-weight="bold" textLength="10.6" lengthAdjust="spacingAndGlyphs">50</text>
<line x1="383" y1="498.52" x2="386" y2="498.52" stroke="#000" stroke-width="1.2"/>
<text x="377.2" y="501.67" font-size="8.8" text-anchor="end" fill="#000" font-weight="bold" textLength="15.9" lengthAdjust="spacingAndGlyphs">100</text>
<line x1="383" y1="476.48" x2="386" y2="476.48" stroke="#000" stroke-width="1.2"/>
<text x="377.2" y="479.63" font-size="8.8" text-anchor="end" fill="#000" font-weight="bold" textLength="15.9" lengthAdjust="spacingAndGlyphs">150</text>
<line x1="383" y1="454.44" x2="386" y2="454.44" stroke="#000" stroke-width="1.2"/>
<text x="377.2" y="457.59" font-size="8.8" text-anchor="end" fill="#000" font-weight="bold" textLength="15.9" lengthAdjust="spacingAndGlyphs">200</text>
<line x1="383" y1="432.4" x2="386" y2="432.4" stroke="#000" stroke-width="1.2"/>
<text x="377.2" y="435.55" font-size="8.8" text-anchor="end" fill="#000" font-weight="bold" textLength="15.9" lengthAdjust="spacingAndGlyphs">250</text>
<line x1="394.2" y1="542.7" x2="394.2" y2="544.8" stroke="#000" stroke-width="1.2"/>
<text x="394.2" y="558.5" font-size="9.2" text-anchor="middle" fill="#000" font-weight="bold">2.5</text>
<line x1="417.5" y1="542.7" x2="417.5" y2="544.8" stroke="#000" stroke-width="1.2"/>
<text x="417.5" y="558.5" font-size="9.2" text-anchor="middle" fill="#000" font-weight="bold">12</text>
<line x1="515.7" y1="542.7" x2="515.7" y2="544.8" stroke="#000" stroke-width="1.2"/>
<text x="515.7" y="558.5" font-size="9.2" text-anchor="middle" fill="#000" font-weight="bold">52</text>
<text transform="translate(354.8,486) rotate(-90)" x="0" y="0" font-size="9.8" text-anchor="middle" font-weight="bold" textLength="80" lengthAdjust="spacingAndGlyphs">Glucagon (pg/ml)</text>
<line x1="391.81" y1="499.84" x2="391.81" y2="510.64" stroke="#000" stroke-width="1.3"/>
<line x1="390" y1="499.84" x2="393.61" y2="499.84" stroke="#000" stroke-width="1.3"/>
<line x1="415" y1="500.72" x2="415" y2="510.2" stroke="#000" stroke-width="1.3"/>
<line x1="413.2" y1="500.72" x2="416.8" y2="500.72" stroke="#000" stroke-width="1.3"/>
<line x1="415" y1="465.46" x2="415" y2="492.35" stroke="#000" stroke-width="1.3"/>
<line x1="413.2" y1="465.46" x2="416.8" y2="465.46" stroke="#000" stroke-width="1.3"/>
<line x1="415" y1="464.58" x2="415" y2="482.87" stroke="#000" stroke-width="1.3"/>
<line x1="413.2" y1="464.58" x2="416.8" y2="464.58" stroke="#000" stroke-width="1.3"/>
<line x1="512.68" y1="478.68" x2="512.68" y2="493.23" stroke="#000" stroke-width="1.3"/>
<line x1="510.88" y1="478.68" x2="514.48" y2="478.68" stroke="#000" stroke-width="1.3"/>
<line x1="512.68" y1="442.54" x2="512.68" y2="468.99" stroke="#000" stroke-width="1.3"/>
<line x1="510.88" y1="442.54" x2="514.48" y2="442.54" stroke="#000" stroke-width="1.3"/>
<polyline points="391.81,510.64 415,510.2 512.68,529.38" fill="none" stroke="#000" stroke-width="1.4"/>
<path d="M391.81,532.02 C395.67,525.41 394.86,498.81 415,492.35 C435.15,485.88 496.4,493.08 512.68,493.23" fill="none" stroke="#000" stroke-width="1.4"/>
<path d="M391.81,525.85 C395.67,518.69 394.86,492.35 415,482.87 C435.15,473.39 496.4,471.3 512.68,468.99" fill="none" stroke="#000" stroke-width="1.4"/>
<rect x="388.7" y="507.34" width="6.2" height="6.6" fill="#000" stroke="#000" stroke-width="0.4"/>
<rect x="411.9" y="506.9" width="6.2" height="6.6" fill="#000" stroke="#000" stroke-width="0.4"/>
<rect x="509.58" y="526.08" width="6.2" height="6.6" fill="#000" stroke="#000" stroke-width="0.4"/>
<polygon points="391.81,522.25 395.11,525.85 391.81,529.45 388.5,525.85" fill="#000"/>
<polygon points="415,479.27 418.3,482.87 415,486.47 411.7,482.87" fill="#000"/>
<polygon points="512.68,465.39 515.98,468.99 512.68,472.59 509.38,468.99" fill="#000"/>
<polygon points="391.81,528.72 394.81,532.02 391.81,535.32 388.81,532.02" fill="#fff" stroke="#000" stroke-width="1.2"/>
<polygon points="415,489.05 418,492.35 415,495.65 412,492.35" fill="#fff" stroke="#000" stroke-width="1.2"/>
<polygon points="512.68,489.93 515.68,493.23 512.68,496.53 509.68,493.23" fill="#fff" stroke="#000" stroke-width="1.2"/>
<text x="515.3" y="443.6" font-size="10" text-anchor="middle" fill="#000" font-weight="bold">*</text>
<text x="515" y="506.7" font-size="10" text-anchor="middle" fill="#000" font-weight="bold">*</text>
<line x1="419.8" y1="432.8" x2="434.9" y2="432.8" stroke="#000" stroke-width="1.5"/>
<rect x="425.3" y="430.6" width="4.4" height="4.4" fill="#000" stroke="#000" stroke-width="0.4"/>
<text x="437.9" y="438.5" font-size="9.8" text-anchor="start" fill="#000" font-weight="bold">Control</text>
<line x1="419.8" y1="446.6" x2="434.9" y2="446.6" stroke="#000" stroke-width="1.5"/>
<polygon points="427.5,444.4 429.7,446.6 427.5,448.8 425.3,446.6" fill="#fff" stroke="#000" stroke-width="1.1"/>
<text x="437.9" y="451" font-size="9.8" text-anchor="start" fill="#000" font-weight="bold">F-IRKO</text>
<line x1="419.8" y1="457.9" x2="434.9" y2="457.9" stroke="#000" stroke-width="1.5"/>
<polygon points="427.5,455.3 430.1,457.9 427.5,460.5 424.9,457.9" fill="#000"/>
<text x="437.9" y="463.3" font-size="9.8" text-anchor="start" fill="#000" font-weight="bold">F-IR/IGFRKO</text>
<text x="0.8" y="576.7" font-size="18" text-anchor="start" fill="#000" font-weight="bold">D</text>
<g id="histo"><g filter="url(#dk0)"><g clip-path="url(#cp0)"><rect x="12.9" y="580.9" width="121.9" height="92.8" fill="#bb7055"/><g filter="url(#bl6)"><ellipse cx="32.9" cy="595.9" rx="35" ry="20" fill="#bd6d48" opacity="0.4"/><ellipse cx="124.9" cy="620.9" rx="15" ry="40" fill="#c06c48" opacity="0.4"/><ellipse cx="30.9" cy="665.7" rx="24" ry="14" fill="#d4967a" opacity="0.85"/><ellipse cx="72.9" cy="630.9" rx="40" ry="25" fill="#b66c5e" opacity="0.35"/></g><rect x="12.9" y="580.9" width="121.9" height="92.8" filter="url(#sd0)"/><rect x="12.9" y="580.9" width="121.9" height="92.8" filter="url(#sl0)"/><g filter="url(#bl1)"><path d="M96.5,617.5 Q101,616.5 106,617.8 T116,617.2 L121,618.8" fill="none" stroke="#e2bd98" stroke-width="1.7" stroke-linecap="round"/><ellipse cx="96.5" cy="616.8" rx="1.6" ry="1.6" fill="#e2bd98" opacity="1"/><path d="M13,645.5 Q20,644.2 26,645.8 T38.5,644.8" fill="none" stroke="#e2bd98" stroke-width="1.7" stroke-linecap="round"/><ellipse cx="80" cy="653" rx="4.5" ry="2.8" fill="#e2bd98" opacity="0.95"/><ellipse cx="34.6" cy="660" rx="2" ry="4.5" fill="#dcb48e" opacity="0.9"/><ellipse cx="60" cy="589" rx="1.4" ry="1.4" fill="#ddb493" opacity="0.9"/><ellipse cx="100.5" cy="590" rx="1.4" ry="1.4" fill="#ddb493" opacity="0.9"/><ellipse cx="48" cy="628" rx="1.4" ry="1.4" fill="#ddb493" opacity="0.9"/><ellipse cx="73" cy="604" rx="1.4" ry="1.4" fill="#ddb493" opacity="0.9"/><ellipse cx="109" cy="594" rx="1.4" ry="1.4" fill="#ddb493" opacity="0.9"/><ellipse cx="30" cy="612" rx="1.4" ry="1.4" fill="#ddb493" opacity="0.9"/><ellipse cx="83" cy="632" rx="1.4" ry="1.4" fill="#ddb493" opacity="0.9"/></g><rect x="121" y="664.2" width="9.5" height="3" fill="#d8b545" opacity="0.85" filter="url(#bl1)"/><rect x="12.9" y="580.9" width="121.9" height="0.9" fill="#000" opacity="0.25"/></g></g>
<g filter="url(#dk1)"><g clip-path="url(#cp1)"><rect x="138.1" y="580.9" width="121.9" height="92.8" fill="#bc735f"/><g filter="url(#bl6)"><ellipse cx="163.1" cy="598.9" rx="40" ry="25" fill="#b0604e" opacity="0.7"/><ellipse cx="218.1" cy="655.7" rx="40" ry="22" fill="#cc8a6e" opacity="0.6"/><ellipse cx="248.1" cy="600.9" rx="20" ry="20" fill="#b86a58" opacity="0.4"/></g><rect x="138.1" y="580.9" width="121.9" height="92.8" filter="url(#sd1)"/><rect x="138.1" y="580.9" width="121.9" height="92.8" filter="url(#sl1)"/><g filter="url(#bl1)"><ellipse cx="171" cy="592" rx="1.4" ry="1.4" fill="#e0b89a" opacity="0.9"/><ellipse cx="195" cy="621" rx="1.4" ry="1.4" fill="#e0b89a" opacity="0.9"/><ellipse cx="218" cy="611" rx="1.4" ry="1.4" fill="#e0b89a" opacity="0.9"/><ellipse cx="160" cy="617" rx="1.4" ry="1.4" fill="#e0b89a" opacity="0.9"/><ellipse cx="149" cy="611" rx="1.4" ry="1.4" fill="#e0b89a" opacity="0.9"/><ellipse cx="246" cy="608" rx="1.4" ry="1.4" fill="#e0b89a" opacity="0.9"/><ellipse cx="223" cy="597" rx="1.4" ry="1.4" fill="#e0b89a" opacity="0.9"/><ellipse cx="165" cy="636" rx="1" ry="1.6" fill="#5a2a2a" opacity="0.9"/><path d="M236,658 L242,668" stroke="#d8b290" stroke-width="1.5"/></g><rect x="246" y="663.8" width="9.5" height="3" fill="#d8b545" opacity="0.85" filter="url(#bl1)"/><rect x="138.1" y="580.9" width="121.9" height="0.9" fill="#000" opacity="0.25"/></g></g>
<g filter="url(#dk2)"><g clip-path="url(#cp2)"><rect x="263.1" y="580.9" width="121.9" height="92.8" fill="#c46a5e"/><g filter="url(#bl6)"><ellipse cx="293.1" cy="598.9" rx="34" ry="18" fill="#b0303f" opacity="0.95"/><ellipse cx="333.1" cy="583.9" rx="42" ry="11" fill="#a0143a" opacity="1"/><ellipse cx="368.1" cy="588.9" rx="20" ry="10" fill="#b03848" opacity="0.8"/><ellipse cx="267.1" cy="618.9" rx="7" ry="26" fill="#a82844" opacity="0.9"/><ellipse cx="323.1" cy="615.9" rx="22" ry="14" fill="#c2605c" opacity="0.6"/><ellipse cx="373.1" cy="612.9" rx="8" ry="14" fill="#d49a58" opacity="1"/><ellipse cx="379.1" cy="602.9" rx="5" ry="6" fill="#d49a58" opacity="0.9"/><ellipse cx="355.1" cy="630.9" rx="16" ry="12" fill="#c4705a" opacity="0.6"/><ellipse cx="285.1" cy="657.7" rx="26" ry="22" fill="#dcaa80" opacity="1"/><ellipse cx="273.1" cy="638.7" rx="12" ry="12" fill="#cf9070" opacity="0.7"/><ellipse cx="319.1" cy="649.7" rx="16" ry="14" fill="#c86f68" opacity="0.7"/><ellipse cx="361.1" cy="653.7" rx="24" ry="18" fill="#c87e62" opacity="0.7"/></g><rect x="263.1" y="580.9" width="121.9" height="92.8" filter="url(#sd2)"/><rect x="263.1" y="580.9" width="121.9" height="92.8" filter="url(#sl2)"/><g filter="url(#bl1)"><ellipse cx="315.5" cy="644.3" rx="9" ry="8" fill="#c0606a" opacity="0.35"/><path d="M281,602 L286,610" stroke="#d9b9a0" stroke-width="1.4"/></g><ellipse cx="286" cy="615" rx="3.8" ry="2.9" fill="#d6c48e" stroke="#a87850" stroke-width="0.9" transform="rotate(20 286 615)"/><ellipse cx="329.7" cy="619.3" rx="4.8" ry="4" fill="#d6c48e" stroke="#a87850" stroke-width="0.9" transform="rotate(-20 329.7 619.3)"/><ellipse cx="315.5" cy="644.3" rx="4.1" ry="4.8" fill="#d6c48e" stroke="#a87850" stroke-width="0.9" transform="rotate(0 315.5 644.3)"/><rect x="370.5" y="663.2" width="9.5" height="3" fill="#d8b545" opacity="0.85" filter="url(#bl1)"/><rect x="263.1" y="580.9" width="121.9" height="0.9" fill="#000" opacity="0.25"/></g></g>
<g filter="url(#dk3)"><g clip-path="url(#cp3)"><rect x="388.1" y="580.9" width="122.3" height="92.8" fill="#bd6256"/><g filter="url(#bl6)"><ellipse cx="450.1" cy="610.9" rx="40" ry="14" fill="#b44a50" opacity="0.6" transform="rotate(25 450.1 610.9)"/><ellipse cx="500.1" cy="618.9" rx="12" ry="26" fill="#c98a62" opacity="0.7"/><ellipse cx="413.1" cy="655.7" rx="30" ry="18" fill="#cc7e72" opacity="0.7"/><ellipse cx="473.1" cy="658.7" rx="30" ry="18" fill="#d08a74" opacity="0.7"/><ellipse cx="413.1" cy="595.9" rx="22" ry="12" fill="#c4725e" opacity="0.5"/></g><rect x="388.1" y="580.9" width="122.3" height="92.8" filter="url(#sd3)"/><rect x="388.1" y="580.9" width="122.3" height="92.8" filter="url(#sl3)"/><g filter="url(#bl1)"><path d="M414.5,635.5 L423.5,629.5" stroke="#f0d0b8" stroke-width="2" stroke-linecap="round"/></g><rect x="496" y="663.6" width="9.5" height="3" fill="#d8b545" opacity="0.85" filter="url(#bl1)"/><rect x="388.1" y="580.9" width="122.3" height="0.9" fill="#000" opacity="0.25"/></g></g></g>
<text x="71.4" y="685.4" font-size="10.3" text-anchor="middle" fill="#000" font-weight="bold" textLength="33.6" lengthAdjust="spacingAndGlyphs">Control</text>
<text x="198.6" y="685.4" font-size="10.3" text-anchor="middle" fill="#000" font-weight="bold" textLength="48" lengthAdjust="spacingAndGlyphs">F-IGFRKO</text>
<text x="329.45" y="685.4" font-size="10.3" text-anchor="middle" fill="#000" font-weight="bold" textLength="33.4" lengthAdjust="spacingAndGlyphs">F-IRKO</text>
<text x="456.35" y="685.4" font-size="10.3" text-anchor="middle" fill="#000" font-weight="bold" textLength="60.6" lengthAdjust="spacingAndGlyphs">F-IR/IGFRKO</text>
</svg>
</body></html>
